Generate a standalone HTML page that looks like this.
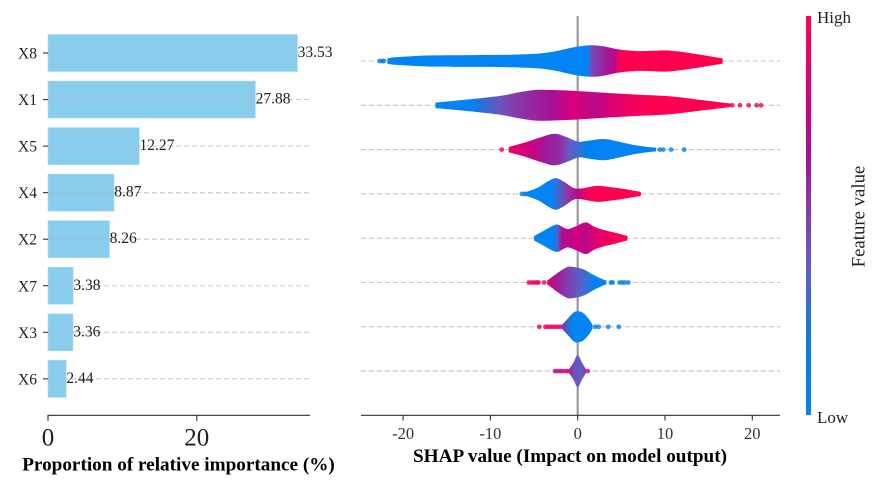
<!DOCTYPE html>
<html lang="en">
<head>
<meta charset="utf-8">
<title>Feature importance and SHAP summary</title>
<style>
html,body{margin:0;padding:0;background:#fff;}
svg{display:block;font-family:"Liberation Serif",serif;}
</style>
</head>
<body>
<svg id="chart" xmlns="http://www.w3.org/2000/svg" width="885" height="491" viewBox="0 0 885 491">
  <defs>
    <linearGradient id="colorbar-gradient" x1="0" y1="1" x2="0" y2="0"></linearGradient>
  </defs>
  <rect x="0" y="0" width="885" height="491" fill="#ffffff"></rect>
  <g id="bar-panel"></g>
  <g id="shap-panel"></g>
  <g id="colorbar"></g>
</svg>
<script>
// Shared categories, top to bottom
const categories = ['X8', 'X1', 'X5', 'X4', 'X2', 'X7', 'X3', 'X6'];

// Left panel data
const importance = [33.53, 27.88, 12.27, 8.87, 8.26, 3.38, 3.36, 2.44];
const importanceTicks = [0, 20];
const importanceTitle = 'Proportion of relative importance (%)';

// Right panel data
const shapTicks = [-20, -10, 0, 10, 20];
const shapTitle = 'SHAP value (Impact on model output)';

// Violin outlines: shap value and density (half-thickness units)
const shapX8 = [-21.8, -21, -19, -16.7, -12, -8, -6.4, -4.5, -2.6, -0.3, 1.6, 3, 4.5, 5.8, 7.1, 8.6, 10.2, 12.5, 15.2, 16.6];
const densX8 = [2.6, 3.8, 4.8, 5.6, 5.9, 6.2, 6.6, 7.4, 9.6, 14, 15.8, 14.6, 11.9, 10.5, 9.9, 10.2, 10.6, 8.4, 4.6, 2.6];
const shapX1 = [-16.3, -14, -11.8, -8.7, -6.4, -4.5, -2, 0, 1.4, 4, 6.7, 10.5, 14.4, 16.5, 17.5];
const densX1 = [2.8, 4.6, 6.5, 9.7, 13.5, 15.5, 15, 14.2, 13.5, 12, 10.7, 9, 5, 2.8, 1.8];
const shapX5 = [-7.9, -6.8, -5.5, -4, -2.6, -1.2, 0, 1, 2.9, 4.5, 6, 7.5, 9];
const densX5 = [2.6, 5.2, 8.6, 13, 15.8, 12.2, 8, 8.6, 10.6, 8.4, 5.4, 3.2, 1.8];
const shapX4 = [-6.2, -5.6, -4.5, -3.4, -2.5, -1.5, -0.5, 0.4, 2.2, 4, 5.2, 6.3, 7.2];
const densX4 = [1.8, 2.8, 6.6, 12.6, 15.8, 11.8, 6, 5.4, 8, 6.5, 5, 3.4, 2];
const shapX2 = [-5, -4, -2.5, -1.7, -1.1, -0.2, 0.95, 1.9, 2.9, 4.4, 5.7];
const densX2 = [2.2, 7, 13.6, 11, 9.2, 12, 15.8, 11.4, 8.4, 5.2, 2.2];
const shapX7 = [-3.5, -2.4, -1.4, -0.8, 0.6, 1.8, 2.6, 3.3];
const densX7 = [1.8, 9, 14.6, 15.9, 13.4, 7.6, 4.2, 1.8];
const shapX3 = [-1.8, -1.1, -0.5, 0, 0.6, 1.3, 1.7];
const densX3 = [2, 8.6, 14.2, 15.6, 14, 7.6, 2];
const shapX6 = [-1, -0.5, 0, 0.5, 0.95];
const densX6 = [1.8, 8.4, 16, 8.4, 1.8];
const violinShap = [shapX8, shapX1, shapX5, shapX4, shapX2, shapX7, shapX3, shapX6];
const violinDensity = [densX8, densX1, densX5, densX4, densX2, densX7, densX3, densX6];

// Feature-value colouring along each violin: shap value and normalised feature value
const hueShapX8 = [-21.8, 1.2, 1.5, 3, 4.2, 5, 16.6];
const hueValX8 = [0, 0, 0.42, 0.6, 0.72, 1, 1];
const hueShapX1 = [-16.3, -11.8, -11.5, -9, -7, -5, -3, -0.5, 2, 4, 8, 17.5];
const hueValX1 = [0, 0, 0.22, 0.4, 0.52, 0.58, 0.64, 0.82, 0.72, 0.85, 1, 1];
const hueShapX5 = [-7.9, -5.5, -3.7, -2, -1, 0, 1, 3, 9];
const hueValX5 = [0.9, 0.78, 0.62, 0.55, 0.38, 0.3, 0.1, 0, 0];
const hueShapX4 = [-6.2, -3, -2.2, -1.2, 0, 1, 2.2, 7.2];
const hueValX4 = [0, 0, 0.3, 0.52, 0.72, 0.95, 1, 1];
const hueShapX2 = [-5, -2.8, -2.3, -1.8, -1, 0, 0.9, 1.6, 3, 5.7];
const hueValX2 = [0, 0.02, 0.3, 0.7, 0.72, 0.8, 0.7, 0.82, 0.92, 1];
const hueShapX7 = [-3.5, -2.2, -1, 0.4, 2, 3.3];
const hueValX7 = [0.85, 0.6, 0.48, 0.33, 0.05, 0];
const hueShapX3 = [-1.8, -1, -0.4, 1.7];
const hueValX3 = [0.55, 0.22, 0, 0];
const hueShapX6 = [-1, -0.4, 0.4, 0.95];
const hueValX6 = [0.6, 0.42, 0.38, 0.5];
const hueShap = [hueShapX8, hueShapX1, hueShapX5, hueShapX4, hueShapX2, hueShapX7, hueShapX3, hueShapX6];
const hueValue = [hueValX8, hueValX1, hueValX5, hueValX4, hueValX2, hueValX7, hueValX3, hueValX6];

// Outlier points beyond the violin bodies
const outlierShapX8 = [-22.7, -22.4, -22.2];
const outlierValX8 = [0.1, 0.1, 0.1];
const outlierShapX1 = [17.7, 18.6, 19.6, 20.5, 21];
const outlierValX1 = [0.92, 0.92, 0.92, 0.92, 0.92];
const outlierShapX5 = [-8.7, 9.4, 9.8, 10.7, 12.2];
const outlierValX5 = [0.92, 0.1, 0.1, 0.1, 0.1];
const outlierShapX4 = [-6.4, -6.1, 7];
const outlierValX4 = [0.05, 0.05, 0.95];
const outlierShapX2 = [];
const outlierValX2 = [];
const outlierShapX7 = [-5.6, -5.3, -5, -4.7, -4.5, -3.85, 3.8, 4, 4.8, 5.1, 5.4, 5.8];
const outlierValX7 = [0.92, 0.92, 0.92, 0.92, 0.92, 0.92, 0.1, 0.1, 0.1, 0.1, 0.1, 0.1];
const outlierShapX3 = [-4.4, -3.7, -3.4, -3.1, -2.8, -2.5, -2.2, -1.9, 2, 2.4, 3.5, 4.7];
const outlierValX3 = [0.9, 0.9, 0.9, 0.9, 0.9, 0.9, 0.85, 0.8, 0.1, 0.1, 0.1, 0.1];
const outlierShapX6 = [-2.6, -2.3, -2, -1.7, -1.3, -1.05, 1.15];
const outlierValX6 = [0.75, 0.75, 0.75, 0.75, 0.85, 0.85, 0.85];
const outlierShap = [outlierShapX8, outlierShapX1, outlierShapX5, outlierShapX4, outlierShapX2, outlierShapX7, outlierShapX3, outlierShapX6];
const outlierValue = [outlierValX8, outlierValX1, outlierValX5, outlierValX4, outlierValX2, outlierValX7, outlierValX3, outlierValX6];

// Colour ramp knots for the feature value legend
const rampPositions = [0, 0.12, 0.2, 0.36, 0.52, 0.65, 0.8, 1];
const rampColors = ['#0484f4', '#0080ee', '#1078dc', '#6060c8', '#8a38a8', '#a60f96', '#d4007e', '#ff0051'];

// Axis functions
const SVG_NS = 'http://www.w3.org/2000/svg';
const impX = v => 48 + v * 7.44;
const barY = i => 53 + i * 46.55;
const shapX = v => 577.7 + v * 8.73;
const rowY = i => 61 + i * 44.3;

function node(tag, parent, attrs, content) {
  const el = document.createElementNS(SVG_NS, tag);
  Object.keys(attrs).forEach(k => el.setAttribute(k, attrs[k]));
  if (content !== undefined) el.textContent = content;
  parent.appendChild(el);
  return el;
}

function hexToRgb(h) {
  return [parseInt(h.slice(1, 3), 16), parseInt(h.slice(3, 5), 16), parseInt(h.slice(5, 7), 16)];
}

function ramp(t) {
  const v = Math.max(0, Math.min(1, t));
  let k = 0;
  while (k < rampPositions.length - 2 && v > rampPositions[k + 1]) k++;
  const f = (v - rampPositions[k]) / (rampPositions[k + 1] - rampPositions[k]);
  const a = hexToRgb(rampColors[k]);
  const b = hexToRgb(rampColors[k + 1]);
  const c = a.map((x, n) => Math.round(x + (b[n] - x) * f));
  return 'rgb(' + c.join(',') + ')';
}

function smoothThrough(points) {
  let d = '';
  for (let i = 0; i < points.length - 1; i++) {
    const p0 = points[Math.max(0, i - 1)];
    const p1 = points[i];
    const p2 = points[i + 1];
    const p3 = points[Math.min(points.length - 1, i + 2)];
    const c1x = p1[0] + (p2[0] - p0[0]) / 6;
    const c1y = p1[1] + (p2[1] - p0[1]) / 6;
    const c2x = p2[0] - (p3[0] - p1[0]) / 6;
    const c2y = p2[1] - (p3[1] - p1[1]) / 6;
    d += ' C' + c1x.toFixed(2) + ' ' + c1y.toFixed(2) + ' ' + c2x.toFixed(2) + ' ' + c2y.toFixed(2) + ' ' + p2[0].toFixed(2) + ' ' + p2[1].toFixed(2);
  }
  return d;
}

const barPanel = document.getElementById('bar-panel');
const shapPanel = document.getElementById('shap-panel');
const colorbar = document.getElementById('colorbar');
const defs = document.querySelector('#chart defs');

// ---------- Left panel ----------
categories.forEach((name, i) => {
  const bar = node('rect', barPanel, { x: impX(0), y: barY(i) - 18.5, width: impX(importance[i]) - impX(0), height: 37, fill: '#88cdeb', stroke: '#a9dcf2', 'stroke-width': 0.6 });
  
  

  const guide = node('line', barPanel, { x1: impX(0), x2: 310, y1: barY(i), y2: barY(i), stroke: '#b4b4b4', 'stroke-opacity': 0.7, 'stroke-width': 1.1, 'stroke-dasharray': '5 3' });
  
  

  const tick = node('line', barPanel, { x1: 43, x2: 48, y1: barY(i), y2: barY(i), stroke: '#333', 'stroke-width': 1.1 });
  
  

  const label = node('text', barPanel, { x: 37, y: barY(i) + 5.5, 'text-anchor': 'end', 'font-size': 15.5, fill: '#222' }, name);
  
  

  const value = node('text', barPanel, { x: impX(importance[i]) + 0.2, y: barY(i) + 4, 'font-size': 15.5, fill: '#222' }, importance[i].toFixed(2));
  
  
});

const impAxis = node('line', barPanel, { x1: 47.5, x2: 310, y1: 415.3, y2: 415.3, stroke: '#333', 'stroke-width': 1.1 });



importanceTicks.forEach(t => {
  const mark = node('line', barPanel, { x1: impX(t), x2: impX(t), y1: 415.3, y2: 421, stroke: '#333', 'stroke-width': 1.1 });
  
  
  const label = node('text', barPanel, { x: impX(t), y: 445.5, 'text-anchor': 'middle', 'font-size': 25, fill: '#222' }, String(t));
  
  
});

const impTitle = node('text', barPanel, { x: 178.5, y: 470.5, 'text-anchor': 'middle', 'font-size': 19.2, 'font-weight': 'bold', fill: '#000' }, importanceTitle);



// ---------- Right panel ----------
categories.forEach((name, i) => {
  const guide = node('line', shapPanel, { x1: 361, x2: 780, y1: rowY(i), y2: rowY(i), stroke: '#c4c4c4', 'stroke-width': 1.1, 'stroke-dasharray': '5 3' });
  
  
});

const zeroLine = node('line', shapPanel, { x1: shapX(0), x2: shapX(0), y1: 16, y2: 415, stroke: '#999999', 'stroke-width': 2.2 });



categories.forEach((name, i) => {
  const xs = violinShap[i];
  const ds = violinDensity[i];
  const cy = rowY(i);

  outlierShap[i].forEach((v, k) => {
    const dot = node('circle', shapPanel, { cx: shapX(v), cy: cy, r: 2.4, fill: ramp(outlierValue[i][k]), 'fill-opacity': 0.8 });
    
    
  });

  const gradId = 'violin-gradient-' + name;
  const grad = node('linearGradient', defs, { id: gradId, gradientUnits: 'userSpaceOnUse', x1: shapX(xs[0]), y1: 0, x2: shapX(xs[xs.length - 1]), y2: 0 });
  const span = xs[xs.length - 1] - xs[0];
  hueShap[i].forEach((v, k) => {
    node('stop', grad, { offset: ((v - xs[0]) / span).toFixed(4), 'stop-color': ramp(hueValue[i][k]) });
  });

  const top = xs.map((v, k) => [shapX(v), cy - ds[k]]);
  const bottom = xs.map((v, k) => [shapX(v), cy + ds[k]]).reverse();
  const d = 'M' + top[0][0].toFixed(2) + ' ' + top[0][1].toFixed(2) + smoothThrough(top) +
    ' L' + bottom[0][0].toFixed(2) + ' ' + bottom[0][1].toFixed(2) + smoothThrough(bottom) + ' Z';
  const violin = node('path', shapPanel, { d: d, fill: 'url(#' + gradId + ')' });
  
  
});

const shapAxis = node('line', shapPanel, { x1: 361, x2: 780, y1: 415.3, y2: 415.3, stroke: '#333', 'stroke-width': 1.1 });



shapTicks.forEach(t => {
  const mark = node('line', shapPanel, { x1: shapX(t), x2: shapX(t), y1: 415.3, y2: 420.5, stroke: '#333', 'stroke-width': 1.1 });
  
  
  const label = node('text', shapPanel, { x: shapX(t), y: 439, 'text-anchor': 'middle', 'font-size': 16.5, fill: '#333' }, String(t));
  
  
});

const shpTitle = node('text', shapPanel, { x: 570, y: 462, 'text-anchor': 'middle', 'font-size': 19.2, 'font-weight': 'bold', fill: '#000' }, shapTitle);



// ---------- Colour bar ----------
const cbGrad = document.getElementById('colorbar-gradient');
rampPositions.forEach((p, k) => {
  node('stop', cbGrad, { offset: p, 'stop-color': rampColors[k] });
});
const cbRect = node('rect', colorbar, { x: 806, y: 16, width: 5, height: 399, fill: 'url(#colorbar-gradient)' });



const highLabel = node('text', colorbar, { x: 817, y: 23, 'font-size': 17, fill: '#222' }, 'High');



const lowLabel = node('text', colorbar, { x: 817, y: 423, 'font-size': 17, fill: '#222' }, 'Low');



const cbTitle = node('text', colorbar, { x: 0, y: 0, transform: 'translate(864.5 216.5) rotate(-90)', 'text-anchor': 'middle', 'font-size': 18.8, fill: '#222' }, 'Feature value');


</script>
</body>
</html>
